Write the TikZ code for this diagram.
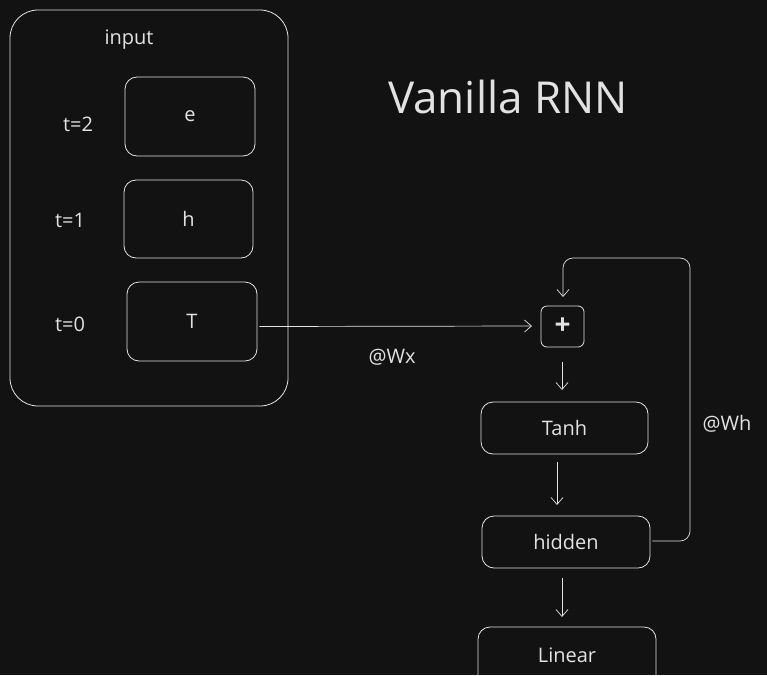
\documentclass[tikz,border=0pt]{standalone}
\usepackage{fontspec}
\setmainfont{Open Sans}
\usetikzlibrary{arrows.meta}
\definecolor{bg}{HTML}{121212}
\definecolor{fg}{HTML}{E2E2E2}
\begin{document}
\begin{tikzpicture}[x=1pt,y=-1pt,
  box/.style={draw=fg,line width=0.8pt,rounded corners=12pt},
  txt/.style={text=fg,font=\fontsize{20}{24}\selectfont},
  arr/.style={draw=fg,line width=0.7pt,-{Straight Barb[length=7pt,width=12pt]}}]
\fill[bg] (0,0) rectangle (767,675);
\useasboundingbox (0,0) rectangle (767,675);
\draw[box,rounded corners=28pt] (10,10) rectangle (288,406);
\node[txt] (inp) at (129,40) {input};
\node[box,minimum width=130pt,minimum height=79pt] (e) at (190,116.5) {};
\node[txt] (el) at (e) {e};
\node[box,minimum width=129pt,minimum height=78pt] (h) at (188.5,219) {};
\node[txt] (hl) at (h) {h};
\node[box,minimum width=130pt,minimum height=79pt] (T) at (192,321.5) {};
\node[txt] (Tl) at (T) {T};
\node[txt] (t2) at (78,124) {t=2};
\node[txt] (t1) at (70,220) {t=1};
\node[txt] (t0) at (70,324) {t=0};
\node[text=fg,font=\fontsize{44}{50}\selectfont] (title) at (508,97) {Vanilla RNN};
\node[box,rounded corners=6pt,minimum width=43pt,minimum height=41pt] (plus) at (562.5,326.5) {};
\node[text=fg,font=\bfseries\fontsize{28}{30}\selectfont] at (plus) {+};
\node[box,minimum width=167pt,minimum height=52pt] (tanh) at (564.5,428) {};
\node[txt] at (tanh) {Tanh};
\node[box,minimum width=168pt,minimum height=52pt] (hid) at (566,542) {};
\node[txt] at (hid) {hidden};
\node[box,minimum width=178pt,minimum height=63pt] (lin) at (567,658.5) {};
\node[txt] at (567,655) {Linear};
\draw[arr] (T.east) ++(2,5) -- (532,326);
\node[txt] (wx) at (392,357) {@Wx};
\coordinate (a1) at (562,362); \coordinate (a2) at (562,390);
\draw[arr] (a1) -- (a2);
\coordinate (b1) at (557,462); \coordinate (b2) at (557,505);
\draw[arr] (b1) -- (b2);
\coordinate (c1) at (562,578); \coordinate (c2) at (562,617);
\draw[arr] (c1) -- (c2);
\draw[arr,rounded corners=10pt] (hid.east) ++(2,-1) -- (690,541) -- (690,258) -- (563,258) -- (563,297);
\node[txt] (wh) at (727,424) {@Wh};
\end{tikzpicture}
\end{document}
